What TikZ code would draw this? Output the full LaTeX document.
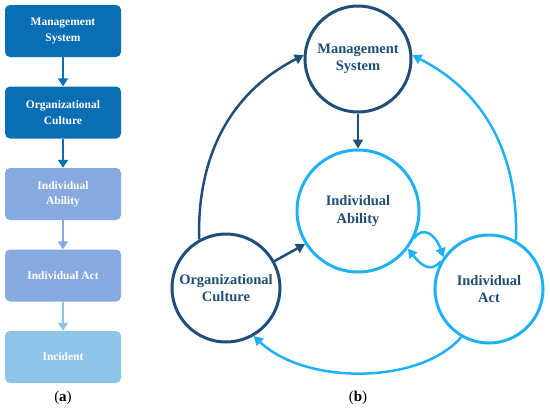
\documentclass[tikz,border=0pt]{standalone}
\usepackage{fontspec}
\setmainfont{Liberation Serif}
\usetikzlibrary{arrows.meta}

\definecolor{boxdark}{HTML}{0A6EB4}
\definecolor{boxmid}{HTML}{86AADF}
\definecolor{boxlight}{HTML}{8EC4E8}
\definecolor{navy}{HTML}{1F4E79}
\definecolor{sky}{HTML}{1FB1F5}

\tikzset{
  stagebox/.style = {rounded corners = 5pt, minimum width = 116pt, minimum height = 52pt,
    align = center, text = white, font = \fontsize{11.5}{15.5}\selectfont\bfseries},
  factor/.style = {circle, line width = 3pt, fill = white, align = center,
    font = \fontsize{14.5}{17.5}\selectfont\bfseries},
  tip/.style = {-{Triangle[length = 9pt, width = 10pt]}, line width = 2.5pt},
  smalltip/.style = {-{Triangle[length = 8pt, width = 10pt]}, line width = 2pt}
}

\begin{document}
\begin{tikzpicture}[x = 1pt, y = -1pt]
\useasboundingbox (0, 0) rectangle (550, 413);

% (a)
\node[stagebox, fill = boxdark] (ms1) at (63, 31) {Management\\System};
\node[stagebox, fill = boxdark] (oc1) at (63, 112.5) {Organizational\\Culture};
\node[stagebox, fill = boxmid] (ia1) at (63, 194) {Individual\\Ability};
\node[stagebox, fill = boxmid] (act1) at (63, 275.5) {Individual Act};
\node[stagebox, fill = boxlight] (inc1) at (63, 357) {Incident};

\draw[smalltip, boxdark] (ms1) -- (oc1);
\draw[smalltip, boxdark] (oc1) -- (ia1);
\draw[smalltip, boxmid] (ia1) -- (act1);
\draw[smalltip, boxlight] (act1) -- (inc1);

\node[font = \fontsize{15}{18}\selectfont] (capa) at (63, 398) {(\textbf{a})};

% (b)
\node[factor, draw = navy, text = navy, minimum size = 106pt] (ms) at (358, 59) {Management\\System};
\node[factor, draw = sky, text = navy, minimum size = 122pt] (ia) at (358, 211) {Individual\\Ability};
\node[factor, draw = navy, text = navy, minimum size = 108pt] (oc) at (226, 288) {Organizational\\Culture};
\node[factor, draw = sky, text = navy, minimum size = 108pt] (act) at (489, 289) {Individual\\Act};

\draw[tip, navy] (ms) -- (ia);
\draw[tip, navy] (oc.29) -- (ia.212);
\draw[tip, navy] (oc.119) .. controls (197, 150) and (235, 90) .. (ms.176);
\draw[tip, sky] (act.61) .. controls (519, 150) and (481, 90) .. (ms.4);
\draw[tip, sky] (act.240) .. controls (420, 385) and (305, 385) .. (oc.300);
\draw[tip, sky] (ia.-26) .. controls (422, 226) and (435, 233) .. (act.145);
\draw[tip, sky] (act.150) .. controls (430, 274) and (420, 264) .. (ia.-37);

\node[font = \fontsize{15}{18}\selectfont] (capb) at (358, 398) {(\textbf{b})};
\end{tikzpicture}
\end{document}
